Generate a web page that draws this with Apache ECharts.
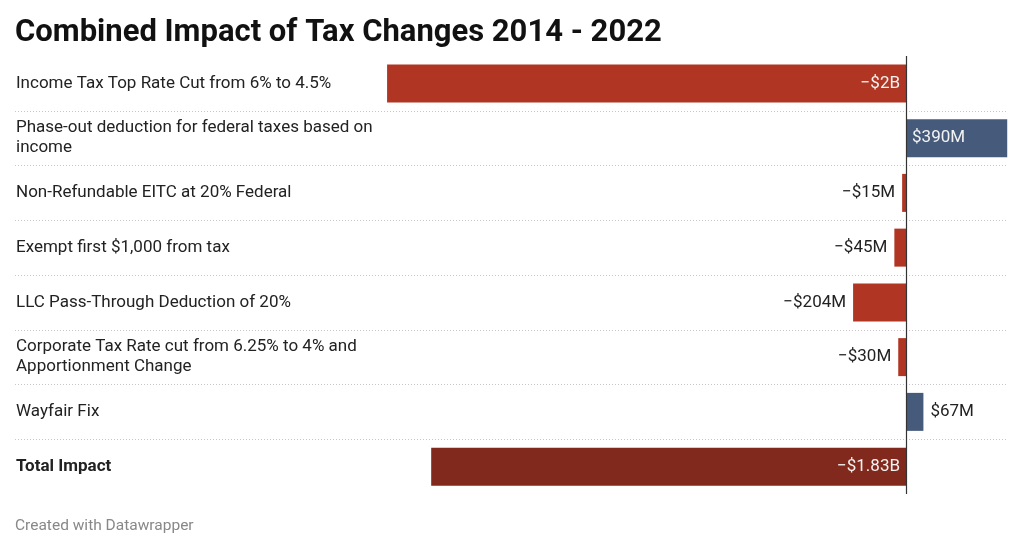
<!DOCTYPE html>
<html>
<head>
<meta charset="utf-8">
<script src="https://cdn.jsdelivr.net/npm/echarts@6/dist/echarts.min.js"></script>
<style>
  html, body { margin: 0; padding: 0; background: #fff; }
  #chart { width: 1024px; height: 548px; }
</style>
</head>
<body>
<div id="chart"></div>
<script>
// rows, top to bottom
const categories = [
  'Income Tax Top Rate Cut from 6% to 4.5%',
  'Phase-out deduction for federal taxes based on\nincome',
  'Non-Refundable EITC at 20% Federal',
  'Exempt first $1,000 from tax',
  'LLC Pass-Through Deduction of 20%',
  'Corporate Tax Rate cut from 6.25% to 4% and\nApportionment Change',
  'Wayfair Fix',
  'Total Impact'
];
// millions of dollars
const values = [-2000, 390, -15, -45, -204, -30, 67, -1830];
const valueLabels = ['\u2212$2B', '$390M', '\u2212$15M', '\u2212$45M', '\u2212$204M', '\u2212$30M', '$67M', '\u2212$1.83B'];
const totalIndex = 7;

const chart = echarts.init(document.getElementById('chart'));

const barData = values.map((v, i) => {
  let color = v < 0 ? '#b03522' : '#465b7b';
  if (i === totalIndex) color = '#80291c';
  const inside = Math.abs(v) > 300;
  return {
    value: v,
    itemStyle: { color: color },
    label: {
      position: inside ? (v < 0 ? 'insideRight' : 'insideLeft') : (v < 0 ? 'left' : 'right'),
      color: inside ? '#f3f3f3' : '#222',
      distance: inside ? 6 : 7
    }
  };
});

const option = {
  animation: false,
  backgroundColor: '#fff',
  title: [
    {
      text: 'Combined Impact of Tax Changes 2014 - 2022',
      left: 10, top: 13,
      textStyle: { fontFamily: 'Roboto', fontWeight: 'bold', fontSize: 31, color: '#111' }
    },
    {
      text: 'Created with Datawrapper',
      left: 10, top: 513,
      textStyle: { fontFamily: 'Roboto', fontWeight: 'normal', fontSize: 15.5, color: '#888' }
    }
  ],
  grid: { left: 15, right: 16, top: 56, bottom: 54, containLabel: false },
  xAxis: {
    type: 'value',
    min: -3434,
    max: 393,
    show: false
  },
  yAxis: {
    type: 'category',
    data: categories,
    inverse: true,
    axisTick: { show: false },
    axisLine: { show: false },
    axisLabel: {
      inside: true,
      margin: 1,
      align: 'left',
      fontFamily: 'Roboto',
      fontSize: 17,
      lineHeight: 20,
      color: '#222',
      formatter: function (val, idx) {
        return idx === totalIndex ? '{b|' + val + '}' : val;
      },
      rich: {
        b: { fontFamily: 'Roboto', fontSize: 17, fontWeight: 'bold', color: '#222' }
      }
    },
    splitLine: {
      show: true,
      showMinLine: false,
      showMaxLine: false,
      lineStyle: { type: [1, 2], color: '#c8c8c8', width: 1 }
    }
  },
  series: [
    {
      type: 'bar',
      data: barData,
      barWidth: 38,
      label: {
        show: true,
        fontFamily: 'Roboto',
        fontSize: 17,
        formatter: function (p) { return valueLabels[p.dataIndex]; }
      },
      markLine: {
        silent: true,
        symbol: 'none',
        label: { show: false },
        lineStyle: { color: '#333', type: 'solid', width: 1.2 },
        data: [{ xAxis: 0 }]
      }
    }
  ]
};

chart.setOption(option);
</script>
</body>
</html>
